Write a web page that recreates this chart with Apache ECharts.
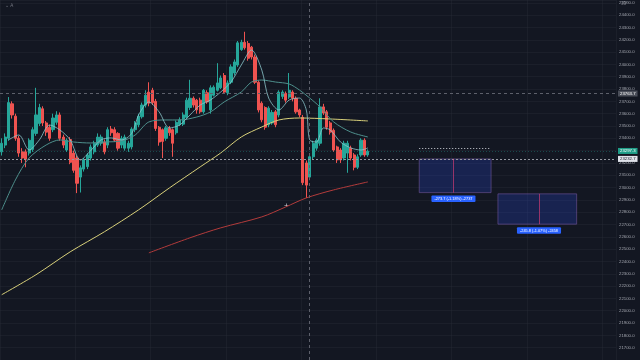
<!DOCTYPE html>
<html><head><meta charset="utf-8">
<script src="https://cdn.jsdelivr.net/npm/echarts@6/dist/echarts.min.js"></script>
<style>html,body{margin:0;padding:0;background:#131722;}#c{width:640px;height:360px;}</style>
</head><body><div id="c"></div>
<script>
// OHLC as [open, close, low, high]
const candles = [
[23290,23360,23260,23400],[23345,23410,23320,23440],[23400,23690,23380,23735],[23680,23590,23560,23700],
[23580,23400,23380,23600],[23400,23280,23250,23420],[23290,23240,23200,23320],[23290,23230,23165,23310],
[23280,23385,23260,23400],[23310,23470,23290,23490],[23440,23590,23420,23810],[23520,23650,23500,23680],
[23640,23525,23500,23660],[23525,23450,23420,23540],[23490,23400,23380,23510],[23470,23565,23450,23600],
[23530,23590,23510,23620],[23590,23400,23380,23610],[23410,23345,23320,23430],[23305,23385,23290,23400],
[23390,23205,23190,23410],[23280,23140,23120,23300],[23240,23035,22955,23260],[23085,23160,22960,23180],
[23150,23225,23130,23240],[23170,23265,23150,23280],[23240,23330,23220,23350],[23290,23360,23270,23380],
[23345,23410,23330,23440],[23360,23410,23340,23430],[23370,23290,23270,23390],[23345,23470,23320,23490],
[23475,23445,23420,23500],[23470,23385,23370,23490],[23440,23320,23300,23450],[23345,23400,23320,23420],
[23320,23410,23300,23430],[23320,23360,23290,23380],[23330,23475,23310,23490],[23470,23525,23450,23540],
[23510,23580,23490,23600],[23575,23670,23560,23690],[23670,23750,23650,23790],[23775,23685,23660,23855],
[23790,23690,23670,23810],[23700,23480,23460,23720],[23490,23370,23340,23500],[23470,23375,23240,23480],
[23400,23485,23380,23500],[23480,23445,23420,23500],[23470,23360,23250,23480],[23445,23530,23430,23545],
[23510,23550,23500,23570],[23515,23590,23500,23610],[23570,23710,23560,23730],[23650,23725,23630,23875],
[23725,23670,23650,23740],[23710,23630,23600,23720],[23710,23615,23600,23730],[23615,23790,23600,23800],
[23770,23695,23680,23790],[23630,23810,23600,23830],[23750,23815,23740,23830],[23790,23850,23780,24010],
[23810,23890,23800,23910],[23910,23775,23760,23930],[23770,23850,23750,23870],[23855,23980,23840,24000],
[23930,24020,23910,24040],[23995,24175,23980,24190],[24120,24180,24110,24200],[24180,24135,24120,24265],
[24170,24050,24030,24190],[24140,24060,24040,24150],[24060,23855,23840,24080],[23855,23630,23610,23870],
[23685,23550,23530,23700],[23650,23490,23470,23660],[23510,23645,23490,23660],[23525,23610,23510,23630],
[23615,23510,23490,23630],[23590,23775,23570,23790],[23740,23775,23720,23790],[23765,23710,23690,23780],
[23735,23790,23720,23930],[23775,23725,23700,23790],[23725,23615,23600,23740],[23630,23590,23570,23640],
[23570,23040,23020,23590],[23200,23020,22915,23220],[23085,23250,23060,23270],[23250,23360,23230,23380],
[23320,23385,23300,23400],[23360,23655,23340,23725],[23655,23605,23590,23680],[23615,23490,23470,23630],
[23525,23450,23430,23540],[23465,23305,23290,23480],[23330,23225,23200,23340],[23305,23225,23200,23320],
[23240,23360,23220,23380],[23280,23360,23120,23380],[23320,23240,23220,23340],[23265,23165,23140,23280],
[23165,23250,23150,23270],[23265,23385,23250,23400],[23385,23265,23250,23400],[23265,23295,23250,23310]
];
const categoryCount = 180;
// moving-average lines: [candle index, value]
const maFast = [[2,23387],[5,23427],[8,23305],[11,23387],[14,23508],[17,23468],[20,23387],[23,23224],[26,23300],
[29,23387],[32,23403],[35,23387],[38,23440],[40,23589],[43,23695],[46,23614],[49,23484],[52,23508],[55,23589],
[58,23670],[61,23711],[64,23776],[67,23857],[70,23995],[73,24117],[76,23954],[78,23727],[81,23630],[84,23711],
[87,23727],[89,23630],[90,23387],[92,23370],[94,23484],[96,23468],[99,23370],[102,23322],[105,23305],[107,23322]];
const maSlow = [[0,22819],[4,23062],[8,23240],[13,23346],[17,23387],[21,23370],[26,23362],[30,23370],[35,23378],
[39,23427],[43,23533],[48,23549],[52,23549],[57,23573],[61,23614],[65,23695],[70,23776],[73,23857],[76,23873],
[80,23857],[84,23841],[87,23792],[90,23727],[93,23655],[97,23533],[102,23451],[107,23411]];
const maYellow = [[0,22130],[10,22292],[20,22478],[30,22641],[40,22819],[49,22997],[58,23168],[64,23281],
[70,23411],[76,23492],[81,23549],[87,23565],[96,23557],[107,23541]];
const maRed = [[43,22470],[55,22592],[64,22673],[76,22762],[83,22843],[89,22916],[97,22981],[107,23046]];
// price levels
const lastPrice = 23297.3, priceLine = 23232.7, crosshairPrice = 23763.7, crosshairIndex = 90;
const dottedLevel = 23319, dottedFrom = 122, dottedTo = 143;
// measurement boxes: [leftIdx, rightIdx, centerIdx, top, bottom]
const box1 = [122,143,132,23232.7,22959.0];
const box2 = [145,168,157,22949.0,22703.0];
const boxLabels = ['-273.7 (-1.18%) -2737','-245.8 (-1.07%) -2458'];
const yMin = 21600, yMax = 24523, yStep = 100;

const cats = Array.from({length: categoryCount}, (_, i) => String(i));
const toPair = a => a.map(p => [String(p[0]), p[1]]);
const boxArea = b => [{coord:[String(b[0]), b[3]]},{coord:[String(b[1]), b[4]]}];
const boxLine = (b, txt) => [{coord:[String(b[2]), b[3]], lineStyle:{color:'rgba(236,64,122,0.75)', width:0.8, type:'solid'}},
  {coord:[String(b[2]), b[4]],
  label:{show:true, position:'end', distance:3, formatter: txt, backgroundColor:'#2962ff', color:'#ffffff',
  fontSize:3.9, padding:[1.5,3,1,3], borderRadius:1}}];

const chart = echarts.init(document.getElementById('c'));
chart.setOption({
  backgroundColor:'#131722',
  animation:false,
  grid:{left:0, right:24, top:0, bottom:0},
  xAxis:{type:'category', data:cats, boundaryGap:true, axisLine:{show:false}, axisTick:{show:false},
    axisLabel:{show:false}, splitLine:{show:true, interval:21, lineStyle:{color:'rgba(42,46,57,0.35)', width:1}}},
  yAxis:{type:'value', position:'right', min:yMin, max:yMax, interval:yStep, scale:true,
    axisLine:{show:false}, axisTick:{show:false},
    axisLabel:{color:'#a3a6af', fontSize:4.3, margin:3, showMinLabel:false, showMaxLabel:false,
      formatter: v => v.toFixed(1)},
    splitLine:{show:true, lineStyle:{color:'rgba(42,46,57,0.35)', width:1}}},
  series:[
    {type:'candlestick', data:candles, barWidth:'78%',
     itemStyle:{color:'#26a69a', color0:'#ef5350', borderColor:'#26a69a', borderColor0:'#ef5350', borderWidth:1},
     markArea:{silent:true, itemStyle:{color:'rgba(41,70,200,0.28)', borderColor:'rgba(120,90,160,0.7)', borderWidth:0.8},
       data:[boxArea(box1), boxArea(box2)]},
     markLine:{silent:true, symbol:'none', animation:false,
       data:[
         {xAxis:String(crosshairIndex), lineStyle:{color:'#5d606b', type:[3,3], width:1}, label:{show:false}},
         {yAxis:crosshairPrice, lineStyle:{color:'#5d606b', type:[3,3], width:1}, label:{show:true, position:'end', distance:2,
           formatter: crosshairPrice.toFixed(1), backgroundColor:'#4a4e59', color:'#ffffff', fontSize:4.3, padding:[1.2,2,0.8,2]}},
         {yAxis:priceLine, lineStyle:{color:'#9598a1', type:[2,2], width:1}, label:{show:true, position:'end', distance:2,
           formatter: priceLine.toFixed(1), backgroundColor:'#e0e3eb', color:'#131722', fontSize:4.3, padding:[1.2,2,0.8,2]}},
         {yAxis:lastPrice, lineStyle:{color:'rgba(38,166,154,0.35)', type:[1,2], width:1}, label:{show:true, position:'end', distance:2,
           formatter: lastPrice.toFixed(1), backgroundColor:'#1f9e89', color:'#ffffff', fontSize:4.3, padding:[1.2,2,0.8,2]}},
         [{coord:[String(dottedFrom), dottedLevel], lineStyle:{color:'#d1d4dc', type:[1,2], width:1}},
          {coord:[String(dottedTo), dottedLevel]}],
         boxLine(box1, boxLabels[0]),
         boxLine(box2, boxLabels[1])
       ]}},
    {type:'line', data:toPair(maRed), smooth:0.3, showSymbol:false, lineStyle:{color:'#b23b3b', width:1}},
    {type:'line', data:toPair(maYellow), smooth:0.3, showSymbol:false, lineStyle:{color:'#d8d07a', width:1}},
    {type:'line', data:toPair(maSlow), smooth:0.3, showSymbol:false, lineStyle:{color:'#4e8f8c', width:1}},
    {type:'line', data:toPair(maFast), smooth:0.3, showSymbol:false, lineStyle:{color:'#8cc6cc', width:0.8}}
  ],
  graphic:[
    {type:'text', left:284, top:202, style:{text:'+', fill:'#d1d4dc', fontSize:8}},
    {type:'text', left:621, top:1, style:{text:'33°', fill:'#787b86', fontSize:4.5}},
    {type:'text', left:5, top:3, style:{text:'⌄ A', fill:'#787b86', fontSize:4.5}}
  ]
});
</script></body></html>
